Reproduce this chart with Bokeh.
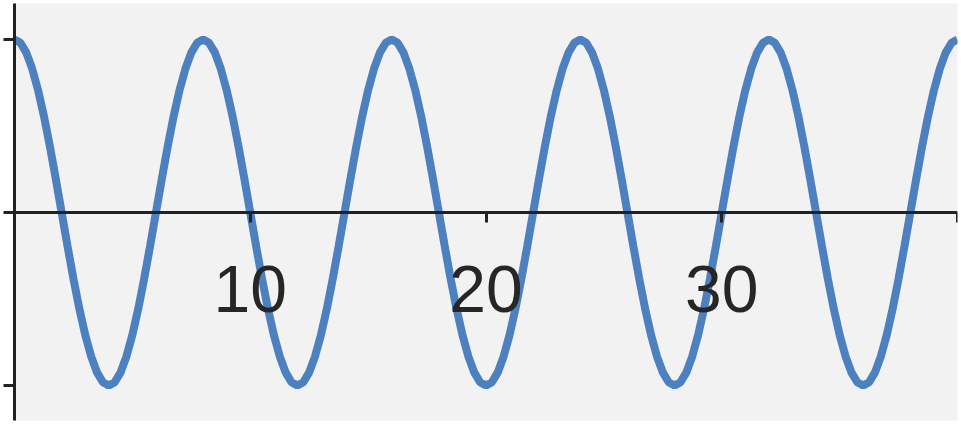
from bokeh.plotting import figure
from bokeh.models import FixedTicker, Range1d
from bokeh.embed import file_html
from bokeh.resources import INLINE

x_values = [
    0, 0.25, 0.5, 0.75, 1, 1.25, 1.5, 1.75, 2, 2.25, 2.5, 2.75, 3, 3.25, 3.5, 3.75,
    4, 4.25, 4.5, 4.75, 5, 5.25, 5.5, 5.75, 6, 6.25, 6.5, 6.75, 7, 7.25, 7.5, 7.75,
    8, 8.25, 8.5, 8.75, 9, 9.25, 9.5, 9.75, 10, 10.25, 10.5, 10.75, 11, 11.25, 11.5, 11.75,
    12, 12.25, 12.5, 12.75, 13, 13.25, 13.5, 13.75, 14, 14.25, 14.5, 14.75, 15, 15.25, 15.5, 15.75,
    16, 16.25, 16.5, 16.75, 17, 17.25, 17.5, 17.75, 18, 18.25, 18.5, 18.75, 19, 19.25, 19.5, 19.75,
    20, 20.25, 20.5, 20.75, 21, 21.25, 21.5, 21.75, 22, 22.25, 22.5, 22.75, 23, 23.25, 23.5, 23.75,
    24, 24.25, 24.5, 24.75, 25, 25.25, 25.5, 25.75, 26, 26.25, 26.5, 26.75, 27, 27.25, 27.5, 27.75,
    28, 28.25, 28.5, 28.75, 29, 29.25, 29.5, 29.75, 30, 30.25, 30.5, 30.75, 31, 31.25, 31.5, 31.75,
    32, 32.25, 32.5, 32.75, 33, 33.25, 33.5, 33.75, 34, 34.25, 34.5, 34.75, 35, 35.25, 35.5, 35.75,
    36, 36.25, 36.5, 36.75, 37, 37.25, 37.5, 37.75, 38, 38.25, 38.5, 38.75, 39, 39.25, 39.5, 39.75,
    40,
]

y_values = [
    1,
    0.981, 0.924, 0.831, 0.707, 0.556, 0.383, 0.195, 0, -0.195, -0.383, -0.556, -0.707, -0.831, -0.924, -0.981,
    -1, -0.981, -0.924, -0.831, -0.707, -0.556, -0.383, -0.195, 0, 0.195, 0.383, 0.556, 0.707, 0.831, 0.924, 0.981,
    1, 0.981, 0.924, 0.831, 0.707, 0.556, 0.383, 0.195, 0, -0.195, -0.383, -0.556, -0.707, -0.831, -0.924, -0.981,
    -1, -0.981, -0.924, -0.831, -0.707, -0.556, -0.383, -0.195, 0, 0.195, 0.383, 0.556, 0.707, 0.831, 0.924, 0.981,
    1, 0.981, 0.924, 0.831, 0.707, 0.556, 0.383, 0.195, 0, -0.195, -0.383, -0.556, -0.707, -0.831, -0.924, -0.981,
    -1, -0.981, -0.924, -0.831, -0.707, -0.556, -0.383, -0.195, 0, 0.195, 0.383, 0.556, 0.707, 0.831, 0.924, 0.981,
    1, 0.981, 0.924, 0.831, 0.707, 0.556, 0.383, 0.195, 0, -0.195, -0.383, -0.556, -0.707, -0.831, -0.924, -0.981,
    -1, -0.981, -0.924, -0.831, -0.707, -0.556, -0.383, -0.195, 0, 0.195, 0.383, 0.556, 0.707, 0.831, 0.924, 0.981,
    1, 0.981, 0.924, 0.831, 0.707, 0.556, 0.383, 0.195, 0, -0.195, -0.383, -0.556, -0.707, -0.831, -0.924, -0.981,
    -1, -0.981, -0.924, -0.831, -0.707, -0.556, -0.383, -0.195, 0, 0.195, 0.383, 0.556, 0.707, 0.831, 0.924, 0.981,
    1,
]

x_ticks = [10, 20, 30, 40]
x_tick_labels = {10: "10", 20: "20", 30: "30", 40: ""}
y_ticks = [-1, 0, 1]

p = figure(
    width=961, height=424,
    output_backend="svg", toolbar_location=None,
    x_range=Range1d(0, 40), y_range=Range1d(-1.202, 1.208),
    background_fill_color="#f2f2f2", border_fill_color="white",
    min_border_left=14, min_border_right=4, min_border_top=3, min_border_bottom=4,
)
p.outline_line_color = None
p.grid.visible = False

p.line(x_values, y_values, line_color="#4c80bf", line_width=8)

xa = p.xaxis[0]
xa.fixed_location = 0
xa.ticker = FixedTicker(ticks=x_ticks)
xa.major_label_overrides = x_tick_labels
xa.minor_tick_line_color = None
xa.major_tick_in = 0
xa.major_tick_out = 10
xa.major_tick_line_width = 3
xa.major_tick_line_color = "#222222"
xa.axis_line_width = 3
xa.axis_line_color = "#222222"
xa.major_label_text_font = "Liberation Sans"
xa.major_label_text_font_size = "66px"
xa.major_label_text_color = "#262626"
xa.major_label_standoff = 43

ya = p.yaxis[0]
ya.ticker = FixedTicker(ticks=y_ticks)
ya.minor_tick_line_color = None
ya.major_tick_in = 0
ya.major_tick_out = 11
ya.major_tick_line_width = 3
ya.major_tick_line_color = "#222222"
ya.axis_line_width = 3
ya.axis_line_color = "#222222"
ya.major_label_text_font_size = "0px"
ya.major_label_text_alpha = 0
ya.major_label_standoff = 0

open("out.html", "w").write(file_html(p, INLINE))
